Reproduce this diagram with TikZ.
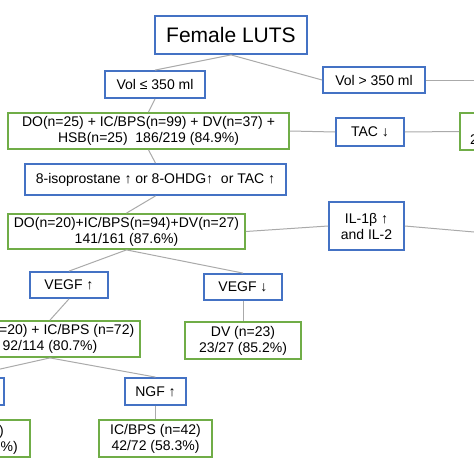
\documentclass[tikz,border=0pt]{standalone}
\usepackage{fontspec}
\setmainfont{Liberation Sans}
\definecolor{bblue}{RGB}{68,114,196}
\definecolor{bgreen}{RGB}{112,173,71}
\definecolor{lgray}{RGB}{170,170,170}
\begin{document}
\begin{tikzpicture}[x=1pt,y=-1pt,
  base/.style={draw, line width=1.8pt, fill=white, align=center, inner sep=0pt,
    font=\fontsize{14}{16}\selectfont, text=black},
  bluebox/.style={base, draw=bblue},
  greenbox/.style={base, draw=bgreen},
  conn/.style={draw=lgray, line width=1pt}]
\useasboundingbox[fill=white] (0,0) rectangle (474,474);
% connectors first (behind boxes)
\node[bluebox, minimum width=152, minimum height=38, font=\fontsize{21}{24}\selectfont] (lu) at (231,35) {Female LUTS};
\node[bluebox, minimum width=100, minimum height=27] (v1) at (155,84.5) {Vol ≤ 350 ml};
\node[bluebox, minimum width=102, minimum height=26] (v2) at (374,80) {Vol > 350 ml};
\node[greenbox, minimum width=281, minimum height=36] (g1) at (148.5,131) {DO(n=25) + IC/BPS(n=99) + DV(n=37) +\\HSB(n=25)\ \ 186/219 (84.9\%)};
\node[bluebox, minimum width=68, minimum height=28] (tac) at (370,132) {TAC ↓};
\node[greenbox, minimum width=90, minimum height=37, anchor=west] (gR) at (459,131.5) {};
\node[inner sep=0pt, anchor=base west, font=\fontsize{14}{16}\selectfont] (gRt) at (470,144.5) {2};
\node[bluebox, minimum width=261, minimum height=31] (iso) at (155.5,179.5) {8-isoprostane ↑ or 8-OHDG↑\ \ or TAC ↑};
\node[greenbox, minimum width=237, minimum height=35] (g2) at (126.5,231.5) {DO(n=20)+IC/BPS(n=94)+DV(n=27)\\141/161 (87.6\%)};
\node[bluebox, minimum width=75, minimum height=48] (il) at (366.5,226) {IL-1β ↑\\and IL-2};
\node[bluebox, minimum width=78, minimum height=26] (ve1) at (69,285) {VEGF ↑};
\node[bluebox, minimum width=78, minimum height=26] (ve2) at (243,287) {VEGF ↓};
\node[greenbox, minimum width=180, minimum height=36] (g3) at (50,339) {DO(n=20) + IC/BPS (n=72)\\92/114 (80.7\%)};
\node[greenbox, minimum width=116, minimum height=37] (dv) at (243,340.5) {DV (n=23)\\23/27 (85.2\%)};
\node[bluebox, minimum width=80, minimum height=27, anchor=east] (lb) at (5,391.5) {};
\node[bluebox, minimum width=61, minimum height=27] (ngf) at (155.5,391.5) {NGF ↑};
\node[greenbox, minimum width=90, minimum height=37, anchor=east] (lg) at (31,438.5) {};
\node[inner sep=0pt, anchor=base east, font=\fontsize{14}{16}\selectfont] (lgt1) at (4,435.5) {)};
\node[inner sep=0pt, anchor=base east, font=\fontsize{14}{16}\selectfont] (lgt2) at (18,451.5) {\%)};
\node[greenbox, minimum width=113, minimum height=37] (ic) at (155.5,438.5) {IC/BPS (n=42)\\42/72 (58.3\%)};
\coordinate (e1) at (474,80);
\coordinate (e2) at (474,232);
\begin{scope}[on background layer/.style={}]
\end{scope}
\draw[conn] (lu.south) -- (v1.north);
\draw[conn] (lu.south) -- (v2.west);
\draw[conn] (v2.east) -- (e1);
\draw[conn] (v1.south) -- (g1.north);
\draw[conn] (g1.east) -- (tac.west);
\draw[conn] (tac.east) -- (gR.west);
\draw[conn] (g1.south) -- (iso.north);
\draw[conn] (iso.south) -- (g2.north);
\draw[conn] (g2.east) -- (il.west);
\draw[conn] (il.east) -- (e2);
\draw[conn] (g2.south) -- (ve1.north);
\draw[conn] (g2.south) -- (ve2.north);
\draw[conn] (ve1.south) -- (g3.north);
\draw[conn] (ve2.south) -- (dv.north);
\draw[conn] (g3.south) -- (lb.north);
\draw[conn] (g3.south) -- (ngf.north);
\draw[conn] (ngf.south) -- (ic.north);
\end{tikzpicture}
\end{document}
